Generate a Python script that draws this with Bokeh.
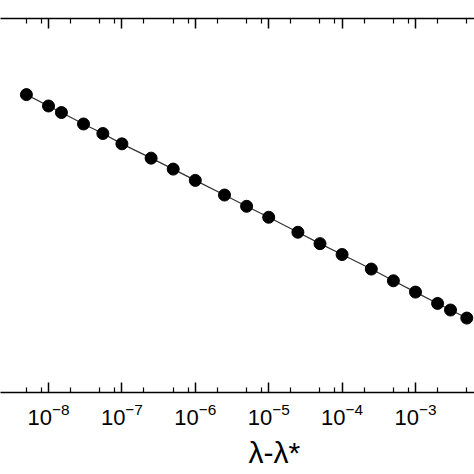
from bokeh.plotting import figure
from bokeh.models import FixedTicker, LogAxis, Range1d, Title, CustomJSTickFormatter
from bokeh.embed import file_html
from bokeh.resources import INLINE

# data (y axis unlabeled: arbitrary units, log scale)
lam_diff = [5e-9, 1e-8, 1.5e-8, 3e-8, 5.5e-8, 1e-7, 2.5e-7, 5e-7, 1e-6, 2.5e-6,
            5e-6, 1e-5, 2.5e-5, 5e-5, 1e-4, 2.5e-4, 5e-4, 1e-3, 2e-3, 3e-3, 5e-3]
yvals = [14125, 9880, 8040, 5610, 4155, 3000, 1915, 1356, 951, 600,
         421, 298, 186, 130, 92.3, 58.4, 40.4, 28.3, 19.8, 16.1, 12.5]

major_ticks = [1e-9, 1e-8, 1e-7, 1e-6, 1e-5, 1e-4, 1e-3, 1e-2]
minor_mult = [2, 5, 8]
x_label = "λ-λ*"

minor_ticks = [d * m for d in [1e-9] + major_ticks for m in minor_mult]

p = figure(width=474, height=474, x_axis_type="log", y_axis_type="log",
           x_range=Range1d(10**-8.654, 10**-2.196),
           y_range=Range1d(10**0.08, 10**5.19),
           output_backend="svg", toolbar_location=None,
           min_border_left=0, min_border_right=0, min_border_top=18,
           min_border_bottom=81)
p.outline_line_color = None
p.grid.visible = False
p.yaxis.visible = False

ticker = FixedTicker(ticks=major_ticks, minor_ticks=minor_ticks)
xa = p.xaxis[0]
xa.ticker = ticker
xa.major_tick_in = 10
xa.major_tick_out = 0
xa.minor_tick_in = 5
xa.minor_tick_out = 0
xa.axis_line_width = 1.5
xa.major_tick_line_width = 1.5
xa.minor_tick_line_width = 1.2
xa.major_label_text_font = "Liberation Sans"
xa.major_label_text_font_size = "22px"
xa.major_label_text_color = "black"
xa.major_label_standoff = 10

top = LogAxis(ticker=ticker, major_tick_in=10, major_tick_out=0,
              minor_tick_in=5, minor_tick_out=0, axis_line_width=1.5,
              major_tick_line_width=1.5, minor_tick_line_width=1.2,
              formatter=CustomJSTickFormatter(code="return ''"),
              major_label_standoff=0)
p.add_layout(top, "above")

p.add_layout(Title(text=x_label, align="left", offset=248, standoff=12,
                   text_font="Liberation Sans", text_font_size="30px",
                   text_font_style="normal", text_color="black"), "below")

p.line(lam_diff, yvals, line_color="#333333", line_width=1.2)
p.scatter(lam_diff, yvals, size=12, fill_color="black", line_color="black")

open("out.html", "w").write(file_html(p, INLINE))
